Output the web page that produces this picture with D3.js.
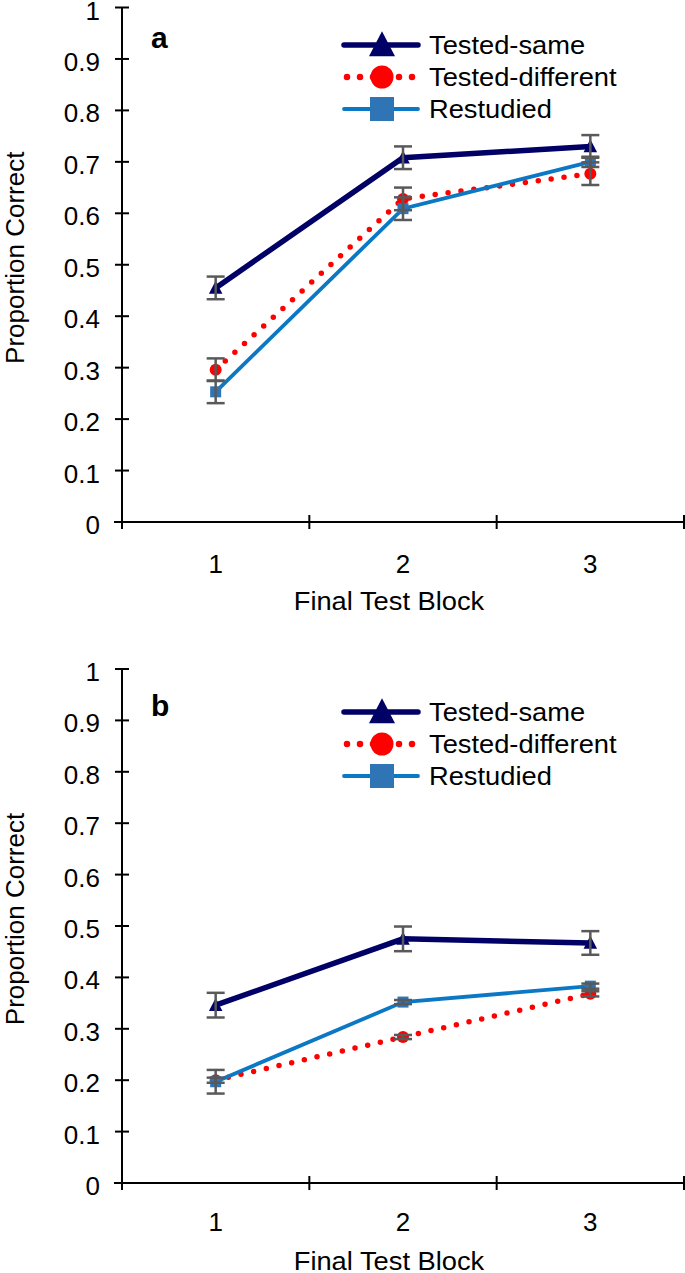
<!DOCTYPE html>
<html lang="en">
<head>
  <meta charset="utf-8">
  <title>Proportion correct by final test block</title>
  <script src="https://d3js.org/d3.v7.min.js"></script>
  <style>
    body { margin: 0; background: #fff; }
    svg text { font-family: "Liberation Sans", Arial, sans-serif; fill: #000; }
  </style>
</head>
<body>
  <div id="chart"></div>

  <script>
    "use strict"

    // categorias e ticks
    var blocks = [1, 2, 3];
    var yTicks = [0, 0.1, 0.2, 0.3, 0.4, 0.5, 0.6, 0.7, 0.8, 0.9, 1];
    var seriesNames = ["Tested-same", "Tested-different", "Restudied"];

    // painel a
    var aSame = [0.455, 0.708, 0.730];
    var aSameErr = [0.022, 0.022, 0.022];
    var aDiff = [0.296, 0.628, 0.677];
    var aDiffErr = [0.022, 0.022, 0.022];
    var aRest = [0.253, 0.609, 0.700];
    var aRestErr = [0.022, 0.022, 0.010];

    // painel b
    var bSame = [0.346, 0.475, 0.467];
    var bSameErr = [0.024, 0.024, 0.023];
    var bDiff = [0.200, 0.284, 0.368];
    var bDiffErr = [0.005, 0.004, 0.005];
    var bRest = [0.197, 0.352, 0.383];
    var bRestErr = [0.023, 0.004, 0.005];

    var W = 685, H = 1273;
    var svg = d3.select('#chart').append('svg')
      .attr('width', W).attr('height', H);

    var estilos = {
      "Tested-same": { color: "#000066", width: 5.5, dash: null, marker: "triangle" },
      "Tested-different": { color: "#ff0000", width: 5.5, dash: "0,13", marker: "circle" },
      "Restudied": { color: "#0b78c5", width: 3.8, dash: null, marker: "square" }
    };
    var markerColor = { "Tested-same": "#000066", "Tested-different": "#ff0000", "Restudied": "#2f74b5" };

    function marker(g, tipo, cx, cy, s) {
      if (tipo === "triangle") {
        g.append('path')
          .attr('d', 'M' + cx + ',' + (cy - s * 0.55) + 'L' + (cx + s * 0.52) + ',' + (cy + s * 0.45) + 'L' + (cx - s * 0.52) + ',' + (cy + s * 0.45) + 'Z')
          .attr('fill', markerColor["Tested-same"]);
      } else if (tipo === "circle") {
        g.append('circle').attr('cx', cx).attr('cy', cy).attr('r', s / 2)
          .attr('fill', markerColor["Tested-different"]);
      } else {
        g.append('rect').attr('x', cx - s / 2).attr('y', cy - s / 2)
          .attr('width', s).attr('height', s)
          .attr('fill', markerColor["Restudied"]);
      }
    }

    function desenhaPainel(cfg) {
      var y = d3.scaleLinear().domain([0, 1]).range([cfg.y0, cfg.y1]);
      var x = d3.scaleBand().domain(blocks).range([122, 684]);
      var xc = d => x(d) + x.bandwidth() / 2;
      var g = svg.append('g');

      // eixo y
      g.append('line').attr('x1', 122).attr('x2', 122)
        .attr('y1', y(0)).attr('y2', y(1))
        .attr('stroke', '#000').attr('stroke-width', 2);
      g.selectAll('.yt').data(yTicks).enter().append('line')
        .attr('x1', 115).attr('x2', 129)
        .attr('y1', d => y(d)).attr('y2', d => y(d))
        .attr('stroke', '#000').attr('stroke-width', 2);
      g.selectAll('.yl').data(yTicks).enter().append('text')
        .attr('x', 100).attr('y', d => y(d) + 12)
        .attr('text-anchor', 'end').attr('font-size', 26)
        .text(d => d3.format('')(d));

      // eixo x
      g.append('line').attr('x1', 114).attr('x2', 685)
        .attr('y1', y(0)).attr('y2', y(0))
        .attr('stroke', '#000').attr('stroke-width', 2);
      var fronteiras = blocks.map(d => x(d)).concat([x(3) + x.bandwidth()]);
      g.selectAll('.xt').data(fronteiras).enter().append('line')
        .attr('x1', d => d).attr('x2', d => d)
        .attr('y1', y(0) - 7).attr('y2', y(0) + 7)
        .attr('stroke', '#000').attr('stroke-width', 2);
      g.selectAll('.xl').data(blocks).enter().append('text')
        .attr('x', d => xc(d)).attr('y', y(0) + cfg.xlab)
        .attr('text-anchor', 'middle').attr('font-size', 26)
        .text(d => d);

      g.append('text').attr('x', 389).attr('y', y(0) + cfg.xtit)
        .attr('text-anchor', 'middle').attr('font-size', 26)
        .attr('transform', 'translate(389,0) scale(1.05,1) translate(-389,0)')
        .text('Final Test Block');
      g.append('text')
        .attr('transform', 'translate(24,' + (y(0.5) - 7) + ') rotate(-90)')
        .attr('text-anchor', 'middle').attr('font-size', 26)
        .text('Proportion Correct');

      g.append('text').attr('x', 151).attr('y', y(1) + cfg.letY)
        .attr('font-size', 30).attr('font-weight', 'bold')
        .text(cfg.letra);

      // linhas
      var ordem = ["Tested-different", "Restudied", "Tested-same"];
      ordem.forEach(function (nome) {
        var st = estilos[nome];
        var vals = cfg.dados[nome].vals;
        var linha = d3.line().x((d, i) => xc(blocks[i])).y(d => y(d));
        g.append('path').datum(vals)
          .attr('d', linha)
          .attr('fill', 'none')
          .attr('stroke', st.color)
          .attr('stroke-width', st.width)
          .attr('stroke-linecap', st.dash ? 'round' : 'butt')
          .attr('stroke-dasharray', st.dash);
        vals.forEach(function (v, i) {
          marker(g, st.marker, xc(blocks[i]), y(v), st.marker === "circle" ? 12 : (st.marker === "square" ? 11 : 13));
        });
      });

      // barras de erro
      ordem.forEach(function (nome) {
        var vals = cfg.dados[nome].vals, errs = cfg.dados[nome].err;
        vals.forEach(function (v, i) {
          var cx = xc(blocks[i]);
          var top = y(v + errs[i]), bot = y(v - errs[i]);
          g.append('line').attr('x1', cx).attr('x2', cx).attr('y1', top).attr('y2', bot)
            .attr('stroke', '#595959').attr('stroke-width', 2.5);
          [top, bot].forEach(function (yy) {
            g.append('line').attr('x1', cx - 9).attr('x2', cx + 9).attr('y1', yy).attr('y2', yy)
              .attr('stroke', '#595959').attr('stroke-width', 2.5);
          });
        });
      });

      // legenda
      seriesNames.forEach(function (nome, i) {
        var st = estilos[nome];
        var ly = cfg.legY + i * 32;
        g.append('line').attr('x1', st.dash ? 347 : 344).attr('x2', st.dash ? 417 : 418)
          .attr('y1', ly).attr('y2', ly)
          .attr('stroke', st.color).attr('stroke-width', st.dash ? 6.5 : st.width)
          .attr('stroke-linecap', 'round')
          .attr('stroke-dasharray', st.dash);
        marker(g, st.marker, 382, ly, st.marker === "circle" ? 23 : (st.marker === "square" ? 24 : 25));
        g.append('text').attr('x', 429).attr('y', ly + 9)
          .attr('font-size', 26.5)
          .attr('transform', 'translate(429,0) scale(1.03,1) translate(-429,0)')
          .text(nome);
      });
    }

    desenhaPainel({
      letra: 'a', y0: 522, y1: 7.5, legY: 45, xlab: 51, xtit: 88, letY: 40,
      dados: {
        "Tested-same": { vals: aSame, err: aSameErr },
        "Tested-different": { vals: aDiff, err: aDiffErr },
        "Restudied": { vals: aRest, err: aRestErr }
      }
    });

    desenhaPainel({
      letra: 'b', y0: 1183, y1: 669, legY: 712, xlab: 48, xtit: 87, letY: 47,
      dados: {
        "Tested-same": { vals: bSame, err: bSameErr },
        "Tested-different": { vals: bDiff, err: bDiffErr },
        "Restudied": { vals: bRest, err: bRestErr }
      }
    });
  </script>
</body>
</html>
